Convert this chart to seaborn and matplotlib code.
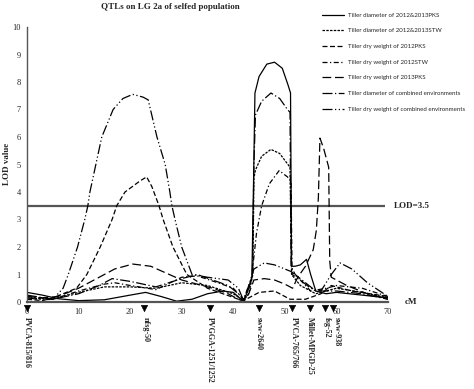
import numpy as np
import pandas as pd
import matplotlib
matplotlib.use("Agg")
import matplotlib.pyplot as plt
import seaborn as sns

# --- data (cM position, LOD value) ---
td_pks_cm = [0, 3, 6, 10, 15, 20, 23, 26, 29, 32, 35, 38, 40, 42, 43, 43.6, 43.9, 44.2, 45, 46.5, 48, 49.5, 50.6, 51.1,
             51.3, 52, 53, 54.2, 55, 56, 58, 60, 65, 70]
td_pks_lod = [0.35, 0.25, 0.12, 0.05, 0.08, 0.25, 0.35, 0.2, 0.03, 0.1, 0.3, 0.4, 0.35, 0.02, 0.5, 0.9, 4.0, 7.6, 8.2,
              8.65, 8.72, 8.5, 7.9, 7.6, 1.3, 1.3, 1.35, 1.55, 1.0, 0.4, 0.3, 0.35, 0.25, 0.15]

td_stw_cm = [0, 5, 10, 15, 20, 25, 30, 35, 40, 42, 43, 43.8, 44.0, 44.3, 45.5, 47.3, 49, 51, 51.3, 53, 56, 60, 65, 70]
td_stw_lod = [0.15, 0.1, 0.35, 0.55, 0.55, 0.5, 0.7, 0.6, 0.3, 0.05, 0.3, 1.0, 4.5, 4.8, 5.3, 5.55, 5.4, 4.9, 1.0,
              0.6, 0.3, 0.5, 0.35, 0.15]

dw12pks_cm = [0, 3, 5, 7, 9.6, 11.6, 14.2, 16.5, 17.4, 19, 21.9, 23.2, 24.2, 25.6, 26.4, 28.3, 31, 33, 35, 38, 41, 42,
              45, 48, 51, 54, 57, 59, 63, 70]
dw12pks_lod = [0.1, 0.05, 0.15, 0.3, 0.5, 1.0, 2.0, 3.0, 3.5, 4.0, 4.4, 4.55, 4.2, 3.5, 3.0, 2.0, 1.0, 0.75, 0.5, 0.3,
               0.1, 0.05, 0.35, 0.4, 0.1, 0.1, 0.3, 0.6, 0.4, 0.2]

dw12stw_cm = [0, 5, 10, 15, 17, 20, 25, 30, 33, 37, 40, 42, 43, 43.5, 44.5, 45.5, 47, 48.9, 50.5, 51.2, 51.4, 53, 55,
              58, 60, 65, 70]
dw12stw_lod = [0.2, 0.1, 0.4, 0.65, 0.7, 0.6, 0.45, 0.9, 0.95, 0.7, 0.5, 0.1, 0.6, 0.8, 2.5, 3.5, 4.3, 4.78, 4.55,
               4.4, 1.0, 0.8, 0.4, 0.5, 0.6, 0.5, 0.2]

dw13pks_cm = [0, 3, 6, 10, 14, 17, 20.5, 24, 27, 30, 33, 36, 39, 41, 42, 43, 44, 46, 48, 50, 51.5, 52.5, 54, 55.5,
              56.1, 56.5, 56.8, 57.5, 58.5, 58.7, 59, 62, 66, 70]
dw13pks_lod = [0.2, 0.15, 0.2, 0.5, 0.9, 1.2, 1.38, 1.3, 1.05, 0.8, 0.65, 0.5, 0.3, 0.1, 0.02, 0.3, 0.8, 0.85, 0.8,
               0.65, 0.5, 0.9, 1.3, 1.9, 2.6, 3.8, 5.96, 5.6, 4.9, 1.5, 0.9, 0.6, 0.3, 0.1]

td_comb_cm = [0, 5, 10, 14, 16.5, 20, 25, 30, 33, 36, 39, 41, 42, 43, 43.7, 44.0, 44.3, 45.5, 47.3, 49, 50.5, 51,
              51.2, 52, 54, 56, 60, 65, 70]
td_comb_lod = [0.25, 0.1, 0.3, 0.6, 0.85, 0.75, 0.55, 0.85, 1.0, 0.8, 0.6, 0.3, 0.05, 0.5, 1.0, 5.0, 6.8, 7.3, 7.6,
               7.4, 7.0, 6.9, 1.3, 1.0, 0.7, 0.4, 0.4, 0.3, 0.1]

dw_comb_cm = [0, 3, 5, 7, 8, 9.8, 11.2, 11.8, 12.2, 14.5, 16.7, 18.6, 20.5, 22.5, 23.5, 25.2, 26.8, 27.7, 28.1, 28.7,
              30, 32, 35, 39, 41, 42, 43, 44, 46, 48, 50, 51.3, 53, 55, 57, 59, 60.7, 63, 66, 70]
dw_comb_lod = [0.15, 0.08, 0.1, 0.5, 1.0, 2.0, 3.0, 3.5, 4.0, 6.0, 7.0, 7.4, 7.55, 7.45, 7.35, 6.0, 5.0, 4.0, 3.5,
               3.0, 2.0, 1.0, 0.9, 0.8, 0.5, 0.05, 0.6, 1.2, 1.42, 1.35, 1.2, 1.1, 0.8, 0.5, 0.4, 1.0, 1.42, 1.2,
               0.7, 0.2]

series_names = [
    "Tiller diameter of 2012&2013PKS",
    "Tiller diameter of 2012&2013STW",
    "Tiller dry weight of 2012PKS",
    "Tiller dry weight of 2012STW",
    "Tiller dry weight of 2013PKS",
    "Tiller diameter of combined environments",
    "Tiller dry weight of combined environments",
]
series_x = [td_pks_cm, td_stw_cm, dw12pks_cm, dw12stw_cm, dw13pks_cm, td_comb_cm, dw_comb_cm]
series_y = [td_pks_lod, td_stw_lod, dw12pks_lod, dw12stw_lod, dw13pks_lod, td_comb_lod, dw_comb_lod]
dashes = ['-', (0, (2, 1)), (0, (4, 2)), (0, (4, 2, 1, 2)), (0, (7, 3)), (0, (8, 2, 1, 2)), (0, (8, 2, 1, 2, 1, 2))]

# markers on the linkage group
marker_names = ["PVCA-815/816", "nfsg-50", "PVGGA-1251/1252", "sww-2640", "PVCA-765/766",
                "Millet-MPGD-25", "fsg-52", "sww-938"]
marker_pos = [0, 22.7, 35.5, 45.0, 51.4, 54.9, 57.8, 59.4]
label_shift = [0, 0.4, 0, 0, 0.3, 0, 0.4, 0.6]

LOD_THRESHOLD = 3.5

# --- figure ---
sns.set_style("white")
plt.rcParams['font.family'] = ['Liberation Serif', 'DejaVu Serif']

fig = plt.figure(figsize=(4.74, 3.89), dpi=100)
ax = fig.add_axes([27 / 474, 1 - 302 / 389, (388 - 27) / 474, (302 - 27) / 389])

for name, xs, ys, ls in zip(series_names, series_x, series_y, dashes):
    df = pd.DataFrame({'cM': xs, 'LOD': ys})
    sns.lineplot(data=df, x='cM', y='LOD', ax=ax, color='black', linewidth=0.9,
                 linestyle=ls, label=name, estimator=None, sort=False)

# threshold line
ax.hlines(LOD_THRESHOLD, 0, 69.4, color='#555555', linewidth=1.6, zorder=1)
ax.text(71.2, LOD_THRESHOLD, "LOD=%.1f" % LOD_THRESHOLD, fontsize=6.5, fontweight='bold',
        va='center', ha='left')

# marker triangles + names
sns.scatterplot(x=marker_pos, y=[-0.22] * len(marker_pos), ax=ax, marker='v', color='black',
                s=22, edgecolor='black', clip_on=False, zorder=5, legend=False)
for nm, pos, sh in zip(marker_names, marker_pos, label_shift):
    ax.text(pos + sh, -0.55, nm, rotation=270, ha='center', va='top', fontsize=5.8,
            fontweight='bold')

ax.set_xlim(0, 70)
ax.set_ylim(0, 10)
ax.set_xticks(np.arange(0, 71, 10))
ax.set_yticks(np.arange(0, 11, 1))
ax.tick_params(labelsize=6, length=2.5, width=0.8, color='#555555', pad=2)
ax.set_xlabel("")
ax.set_ylabel("")

for side in ['top', 'right']:
    ax.spines[side].set_visible(False)
ax.spines['left'].set_color('#555555')
ax.spines['bottom'].set_color('#555555')
ax.spines['left'].set_linewidth(1.0)
ax.spines['bottom'].set_linewidth(1.6)

ax.text(73.3, 0, "cM", fontsize=6.5, fontweight='bold', va='center', ha='left')
fig.text(7 / 474, 1 - 164 / 389, "LOD value", rotation=90, fontsize=6.5, fontweight='bold',
         ha='center', va='center')
fig.text(170 / 474, 1 - 7 / 389, "QTLs on LG 2a of selfed population", fontsize=6.5,
         fontweight='bold', ha='center', va='center')

leg = ax.legend(loc='upper left', bbox_to_anchor=(320 / 474, 1 - 10 / 389), bbox_transform=fig.transFigure,
                frameon=False, prop={'family': 'Lato', 'size': 4.4}, handlelength=3.6,
                handletextpad=0.6, labelspacing=1.7, borderaxespad=0)

fig.savefig('out.png', dpi=100)
